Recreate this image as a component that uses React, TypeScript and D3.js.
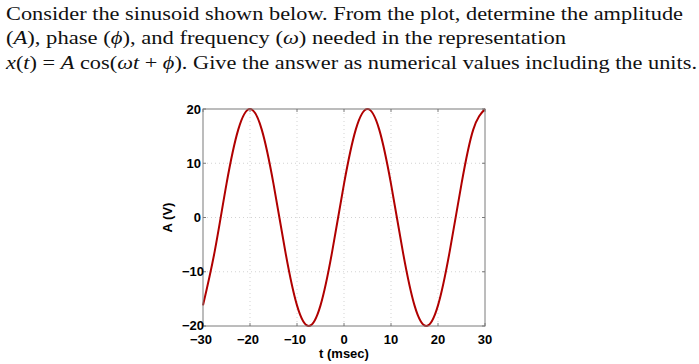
import React, { useEffect, useRef } from 'react';
import * as d3 from 'd3';

// samples (t in msec, A in V)
const timeMs = [-30, -27.5, -25, -22.5, -20, -17.5, -15, -12.5, -10, -7.5, -5, -2.5, 0, 2.5, 5, 7.5, 10, 12.5, 15, 17.5, 20, 22.5, 25, 27.5, 30];
const volts = [-16.2, -6.2, 6.2, 16.2, 20, 16.2, 6.2, -6.2, -16.2, -20, -16.2, -6.2, 6.2, 16.2, 20, 16.2, 6.2, -6.2, -16.2, -20, -16.2, -6.2, 6.2, 16.2, 20];
const xTicks = [-30, -20, -10, 0, 10, 20, 30];
const yTicks = [-20, -10, 0, 10, 20];

// question text, [text, italic?]
const line1: [string, boolean][] = [["Consider the sinusoid shown below. From the plot, determine the amplitude", false]];
const line2: [string, boolean][] = [["(", false], ["A", true], ["), phase (", false], ["ϕ", true], ["), and frequency (", false], ["ω", true], [") needed in the representation", false]];
const line3: [string, boolean][] = [["x", true], ["(", false], ["t", true], [") = ", false], ["A", true], [" cos(", false], ["ωt", true], [" + ", false], ["ϕ", true], [").  Give the answer as numerical values including the units.", false]];

function App() {
    const svgRef = useRef<SVGSVGElement>(null);

    useEffect(() => {
        if (!svgRef.current) return;
        const svg = d3.select(svgRef.current);
        svg.selectAll("*").remove();

        svg.append("rect").attr("width", 699).attr("height", 364).attr("fill", "#fff");

        // question text
        const lines = [
            { segs: line1, y: 19.5, w: 677 },
            { segs: line2, y: 44, w: 560 },
            { segs: line3, y: 68.5, w: 691 },
        ];
        lines.forEach(l => {
            const t = svg.append("text")
                .attr("x", 6)
                .attr("y", l.y)
                .attr("textLength", l.w)
                .attr("lengthAdjust", "spacingAndGlyphs")
                .style("font-family", "'Liberation Serif', 'DejaVu Serif', serif")
                .style("font-size", "19px")
                .style("fill", "#111");
            l.segs.forEach(([s, it]) => {
                t.append("tspan").text(s).style("font-style", it ? "italic" : "normal");
            });
        });

        const left = 203, right = 485, top = 109, bottom = 326;
        const x = d3.scaleLinear().domain([-30, 30]).range([left, right]);
        const y = d3.scaleLinear().domain([-20, 20]).range([bottom, top]);

        const g = svg.append("g");

        // grid
        g.selectAll(".gx").data(xTicks.slice(1, -1)).enter().append("line")
            .attr("x1", d => x(d)).attr("x2", d => x(d))
            .attr("y1", top).attr("y2", bottom)
            .attr("stroke", "#c8c8c8").attr("stroke-width", 0.8).attr("stroke-dasharray", "1,3");
        g.selectAll(".gy").data(yTicks.slice(1, -1)).enter().append("line")
            .attr("x1", left).attr("x2", right)
            .attr("y1", d => y(d)).attr("y2", d => y(d))
            .attr("stroke", "#c8c8c8").attr("stroke-width", 0.8).attr("stroke-dasharray", "1,3");

        // curve
        const line = d3.line<number>()
            .x((d, i) => x(timeMs[i]))
            .y(d => y(d))
            .curve(d3.curveNatural);
        g.append("path")
            .attr("d", line(volts))
            .attr("fill", "none")
            .attr("stroke", "#b00000")
            .attr("stroke-width", 2);

        // box + inward ticks
        g.append("rect")
            .attr("x", left).attr("y", top)
            .attr("width", right - left).attr("height", bottom - top)
            .attr("fill", "none").attr("stroke", "#7a7a7a").attr("stroke-width", 1);
        xTicks.forEach(d => {
            g.append("line").attr("x1", x(d)).attr("x2", x(d)).attr("y1", bottom).attr("y2", bottom - 3).attr("stroke", "#7a7a7a");
            g.append("line").attr("x1", x(d)).attr("x2", x(d)).attr("y1", top).attr("y2", top + 3).attr("stroke", "#7a7a7a");
        });
        yTicks.forEach(d => {
            g.append("line").attr("x1", left).attr("x2", left + 3).attr("y1", y(d)).attr("y2", y(d)).attr("stroke", "#7a7a7a");
            g.append("line").attr("x1", right).attr("x2", right - 3).attr("y1", y(d)).attr("y2", y(d)).attr("stroke", "#7a7a7a");
        });

        const fmt = d3.format("d");
        const labelFont = "'Liberation Sans', Arial, sans-serif";

        g.selectAll(".xl").data(xTicks).enter().append("text")
            .attr("x", d => x(d) - (d < 0 ? 2 : 0))
            .attr("y", 344)
            .attr("text-anchor", "middle")
            .style("font-family", labelFont).style("font-size", "13px").style("font-weight", "bold")
            .text(d => fmt(d));

        g.selectAll(".yl").data(yTicks).enter().append("text")
            .attr("x", d => (d < 0 ? 204 : 201))
            .attr("y", d => y(d) + (d === -20 ? 3.5 : 4.5))
            .attr("text-anchor", "end")
            .style("font-family", labelFont).style("font-size", "13px").style("font-weight", "bold")
            .text(d => fmt(d));

        g.append("text")
            .attr("x", (left + right) / 2)
            .attr("y", 357.5)
            .attr("text-anchor", "middle")
            .style("font-family", labelFont).style("font-size", "13px").style("font-weight", "bold")
            .text("t (msec)");

        g.append("text")
            .attr("transform", `translate(172,${y(0)}) rotate(-90)`)
            .attr("text-anchor", "middle")
            .style("font-family", labelFont).style("font-size", "13px").style("font-weight", "bold")
            .text("A (V)");
    }, []);

    return (
        <svg ref={svgRef} width={699} height={364} style={{ position: "absolute", left: 0, top: 0 }}></svg>
    );
}

export default App;
